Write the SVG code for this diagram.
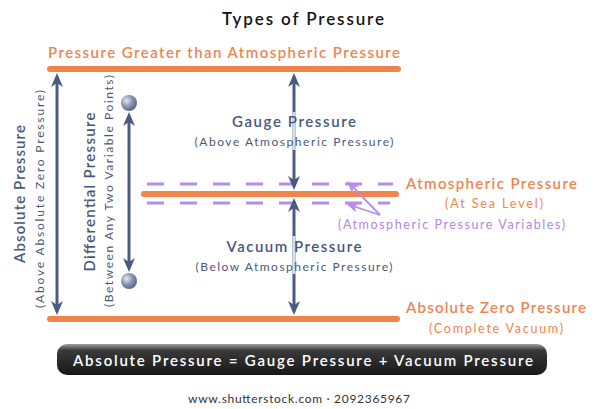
<svg xmlns="http://www.w3.org/2000/svg" width="600" height="409" viewBox="0 0 600 409">
<style>
text{font-family:Lato,"Open Sans","Liberation Sans",sans-serif;text-anchor:middle}
.title{font-size:17px;fill:#141414;font-weight:600}
.or{fill:#EC8550;font-size:15px;font-weight:600}
.ors{fill:#EC8550;font-size:12.5px}
.nv{fill:#4A5878;font-size:15px;font-weight:600}
.nvs{fill:#4A5878;font-size:12px}
.pu{fill:#B486E6;font-size:12.5px}
.bar{fill:#fff;font-size:15px;font-weight:600}
.foot{fill:#333;font-size:12px;font-family:Lato,"Liberation Sans",sans-serif}
.oline{stroke:#F0844A;stroke-width:6;stroke-linecap:round;fill:none}
.arr{stroke:#4A5A80;stroke-width:3;fill:none;marker-start:url(#ah);marker-end:url(#ah)}
.fade{stroke:#D5DDEC;stroke-width:3}
.pdash{stroke:#B88CEA;stroke-width:3;stroke-dasharray:17 16;fill:none}
.parr{stroke:#B88CEA;stroke-width:1.8;fill:none;marker-end:url(#ph)}
</style>
<defs>
<marker id="ah" viewBox="0 0 14 12" refX="10" refY="6" markerWidth="14" markerHeight="12" markerUnits="userSpaceOnUse" orient="auto-start-reverse">
<path d="M0,0 L14,6 L0,12 L4,6 Z" fill="#4A5A80"/>
</marker>
<marker id="ph" viewBox="0 0 12 10" refX="8" refY="5" markerWidth="12" markerHeight="10" markerUnits="userSpaceOnUse" orient="auto">
<path d="M0,0 L12,5 L0,10 L3,5 Z" fill="#B88CEA"/>
</marker>
<radialGradient id="ball" cx="0.35" cy="0.35" r="0.75">
<stop offset="0" stop-color="#E4E8F2"/>
<stop offset="0.5" stop-color="#8893B0"/>
<stop offset="1" stop-color="#4E5C80"/>
</radialGradient>
<linearGradient id="barg" x1="0" y1="0" x2="0" y2="1">
<stop offset="0" stop-color="#A0A0A0"/>
<stop offset="0.2" stop-color="#3A3A3A"/>
<stop offset="1" stop-color="#181818"/>
</linearGradient>
</defs>
<rect width="600" height="409" fill="#fff"/>

<g id="title"><text class="title" x="303" y="25" textLength="162" lengthAdjust="spacing">Types of Pressure</text></g>

<g id="top-level">
<line class="oline" x1="50" y1="69" x2="398" y2="69"/>
<text class="or" x="224" y="58" textLength="352" lengthAdjust="spacing">Pressure Greater than Atmospheric Pressure</text>
</g>

<g id="atmospheric-level">
<line class="pdash" x1="147" y1="184" x2="393" y2="184"/>
<line class="pdash" x1="147" y1="203" x2="390" y2="203"/>
<line class="oline" x1="144" y1="194" x2="396" y2="194"/>
<text class="or" x="491.5" y="189" textLength="171" lengthAdjust="spacing">Atmospheric Pressure</text>
<text class="ors" x="494" y="208" textLength="98" lengthAdjust="spacing">(At Sea Level)</text>
</g>

<g id="zero-level">
<line class="oline" x1="50" y1="319" x2="397" y2="319"/>
<text class="or" x="496" y="313" textLength="180" lengthAdjust="spacing">Absolute Zero Pressure</text>
<text class="ors" x="496" y="333" textLength="134" lengthAdjust="spacing">(Complete Vacuum)</text>
</g>

<g id="connectors">
<line class="arr" x1="57" y1="77" x2="57" y2="311"/>
<line class="arr" x1="129" y1="116" x2="129" y2="268"/>
<line class="arr" x1="294" y1="77" x2="294" y2="186"/>
<line class="arr" x1="294" y1="202" x2="294" y2="311"/>
<line class="fade" x1="294" y1="112" x2="294" y2="150"/>
<line class="fade" x1="294" y1="236" x2="294" y2="274"/>
<path class="parr" d="M380,215 L350,184"/>
<path class="parr" d="M380,215 L350,205"/>
</g>

<g id="absolute-pressure">
<text class="nv" transform="translate(25,194) rotate(-90)" textLength="138" lengthAdjust="spacing">Absolute Pressure</text>
<text class="nvs" transform="translate(44,199) rotate(-90)" textLength="218" lengthAdjust="spacing">(Above Absolute Zero Pressure)</text>
</g>

<g id="differential-pressure">
<circle cx="129" cy="103" r="8" fill="url(#ball)"/>
<circle cx="129" cy="281" r="8" fill="url(#ball)"/>
<text class="nv" transform="translate(95,192) rotate(-90)" textLength="159" lengthAdjust="spacing">Differential Pressure</text>
<text class="nvs" transform="translate(113,191) rotate(-90)" textLength="232" lengthAdjust="spacing">(Between Any Two Variable Points)</text>
</g>

<g id="gauge-pressure">
<text class="nv" x="294" y="127" textLength="124" lengthAdjust="spacing">Gauge Pressure</text>
<text class="nvs" x="294" y="146" textLength="199" lengthAdjust="spacing">(Above Atmospheric Pressure)</text>
</g>

<g id="vacuum-pressure">
<text class="nv" x="294" y="252" textLength="135" lengthAdjust="spacing">Vacuum Pressure</text>
<text class="nvs" x="294" y="271" textLength="197" lengthAdjust="spacing">(Below Atmospheric Pressure)</text>
</g>

<g id="variables">
<text class="pu" x="451.5" y="229" textLength="227" lengthAdjust="spacing">(Atmospheric Pressure Variables)</text>
</g>

<g id="formula">
<rect x="57" y="344" width="490" height="31" rx="10" fill="url(#barg)"/>
<text class="bar" x="303" y="366" textLength="460" lengthAdjust="spacing">Absolute Pressure = Gauge Pressure + Vacuum Pressure</text>
</g>

<g id="footer"><text class="foot" x="299" y="403" textLength="222" lengthAdjust="spacing">www.shutterstock.com · 2092365967</text></g>
</svg>
